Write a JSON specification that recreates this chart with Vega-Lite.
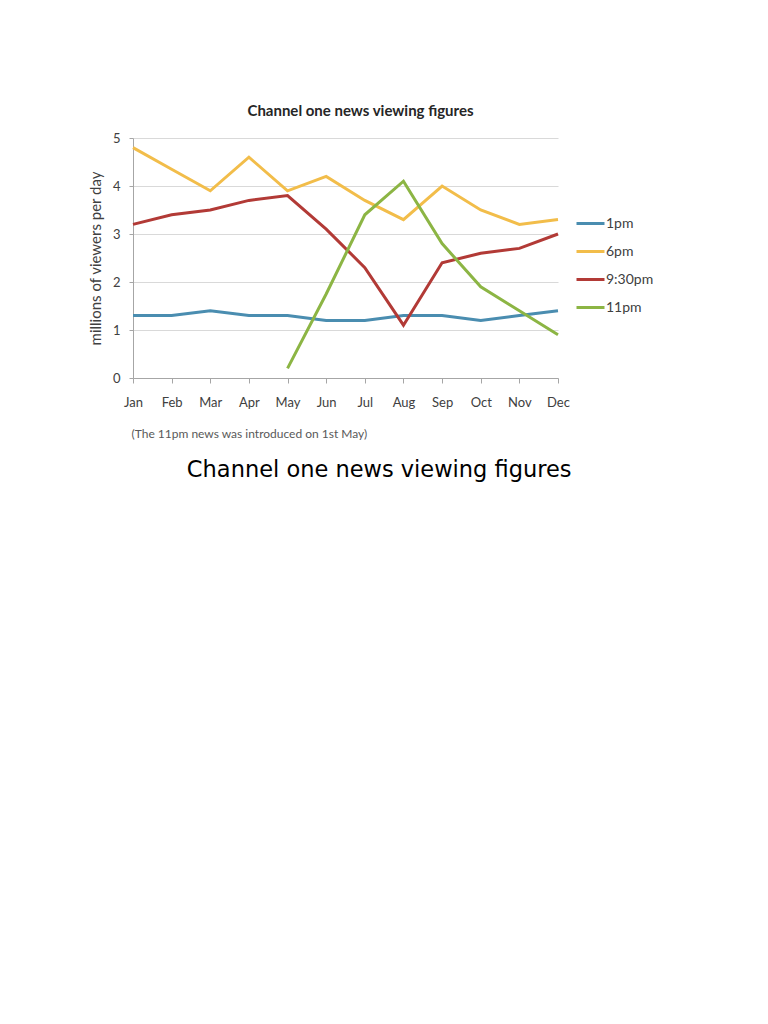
{
  "$schema": "https://vega.github.io/schema/vega-lite/v6.json",
  "autosize": "none",
  "padding": {"left": 133, "top": 138, "right": 635, "bottom": 646},
  "background": "white",
  "title": {
    "text": "Channel one news viewing figures",
    "orient": "bottom",
    "anchor": "middle",
    "dx": 8,
    "offset": 20,
    "font": "DejaVu Sans",
    "fontSize": 22.5,
    "fontWeight": "normal",
    "color": "#000000"
  },
  "vconcat": [
    {
      "width": 425,
      "height": 240,
      "title": {
        "text": "Channel one news viewing figures",
        "anchor": "middle",
        "dx": 15,
        "offset": 13,
        "font": "Lato",
        "fontSize": 15,
        "fontWeight": "bold",
        "color": "#262626"
      },
      "data": {
        "values": [
          {"month": "Jan", "series": "1pm", "value": 1.3},
          {"month": "Feb", "series": "1pm", "value": 1.3},
          {"month": "Mar", "series": "1pm", "value": 1.4},
          {"month": "Apr", "series": "1pm", "value": 1.3},
          {"month": "May", "series": "1pm", "value": 1.3},
          {"month": "Jun", "series": "1pm", "value": 1.2},
          {"month": "Jul", "series": "1pm", "value": 1.2},
          {"month": "Aug", "series": "1pm", "value": 1.3},
          {"month": "Sep", "series": "1pm", "value": 1.3},
          {"month": "Oct", "series": "1pm", "value": 1.2},
          {"month": "Nov", "series": "1pm", "value": 1.3},
          {"month": "Dec", "series": "1pm", "value": 1.4},
          {"month": "Jan", "series": "6pm", "value": 4.8},
          {"month": "Feb", "series": "6pm", "value": 4.35},
          {"month": "Mar", "series": "6pm", "value": 3.9},
          {"month": "Apr", "series": "6pm", "value": 4.6},
          {"month": "May", "series": "6pm", "value": 3.9},
          {"month": "Jun", "series": "6pm", "value": 4.2},
          {"month": "Jul", "series": "6pm", "value": 3.7},
          {"month": "Aug", "series": "6pm", "value": 3.3},
          {"month": "Sep", "series": "6pm", "value": 4.0},
          {"month": "Oct", "series": "6pm", "value": 3.5},
          {"month": "Nov", "series": "6pm", "value": 3.2},
          {"month": "Dec", "series": "6pm", "value": 3.3},
          {"month": "Jan", "series": "9:30pm", "value": 3.2},
          {"month": "Feb", "series": "9:30pm", "value": 3.4},
          {"month": "Mar", "series": "9:30pm", "value": 3.5},
          {"month": "Apr", "series": "9:30pm", "value": 3.7},
          {"month": "May", "series": "9:30pm", "value": 3.8},
          {"month": "Jun", "series": "9:30pm", "value": 3.1},
          {"month": "Jul", "series": "9:30pm", "value": 2.3},
          {"month": "Aug", "series": "9:30pm", "value": 1.1},
          {"month": "Sep", "series": "9:30pm", "value": 2.4},
          {"month": "Oct", "series": "9:30pm", "value": 2.6},
          {"month": "Nov", "series": "9:30pm", "value": 2.7},
          {"month": "Dec", "series": "9:30pm", "value": 3.0},
          {"month": "May", "series": "11pm", "value": 0.2},
          {"month": "Jun", "series": "11pm", "value": 1.75},
          {"month": "Jul", "series": "11pm", "value": 3.4},
          {"month": "Aug", "series": "11pm", "value": 4.1},
          {"month": "Sep", "series": "11pm", "value": 2.8},
          {"month": "Oct", "series": "11pm", "value": 1.9},
          {"month": "Nov", "series": "11pm", "value": 1.4},
          {"month": "Dec", "series": "11pm", "value": 0.9}
        ]
      },
      "mark": {"type": "line", "strokeWidth": 3, "strokeJoin": "miter"},
      "encoding": {
        "x": {
          "field": "month",
          "type": "ordinal",
          "sort": ["Jan", "Feb", "Mar", "Apr", "May", "Jun", "Jul", "Aug", "Sep", "Oct", "Nov", "Dec"],
          "scale": {"type": "point", "padding": 0},
          "axis": {
            "title": "(The 11pm news was introduced on 1st May)",
            "titleFont": "Lato",
            "titleFontSize": 12,
            "titleFontWeight": "normal",
            "titleColor": "#595959",
            "titleAnchor": "start",
            "titleAlign": "left",
            "titleBaseline": "middle",
            "titleX": -2,
            "titleY": 55,
            "labelAngle": 0,
            "labelFont": "Lato",
            "labelFontSize": 13,
            "labelColor": "#404040",
            "labelPadding": 13,
            "tickSize": 5,
            "tickColor": "#a6a6a6",
            "domainColor": "#a6a6a6",
            "grid": false
          }
        },
        "y": {
          "field": "value",
          "type": "quantitative",
          "scale": {"domain": [0, 5], "nice": false},
          "axis": {
            "title": "millions of viewers per day",
            "titleFont": "Lato",
            "titleFontSize": 15,
            "titleFontWeight": "normal",
            "titleColor": "#404040",
            "titlePadding": 9,
            "values": [0, 1, 2, 3, 4, 5],
            "labelFont": "Lato",
            "labelFontSize": 13,
            "labelColor": "#404040",
            "labelPadding": 9,
            "tickSize": 4,
            "tickColor": "#a6a6a6",
            "domainColor": "#a6a6a6",
            "gridColor": "#d9d9d9",
            "gridWidth": 1
          }
        },
        "color": {
          "field": "series",
          "type": "nominal",
          "sort": ["1pm", "6pm", "9:30pm", "11pm"],
          "scale": {
            "domain": ["1pm", "6pm", "9:30pm", "11pm"],
            "range": ["#4a8db0", "#f2bd4a", "#b23a36", "#8cb544"]
          },
          "legend": {
            "title": null,
            "orient": "none",
            "legendX": 442,
            "legendY": 70,
            "symbolType": "stroke",
            "symbolSize": 784,
            "symbolStrokeWidth": 3,
            "labelFont": "Lato",
            "labelFontSize": 14,
            "labelColor": "#404040",
            "labelOffset": 0,
            "rowPadding": 5
          }
        }
      }
    }
  ],
  "config": {"view": {"stroke": null}}
}
